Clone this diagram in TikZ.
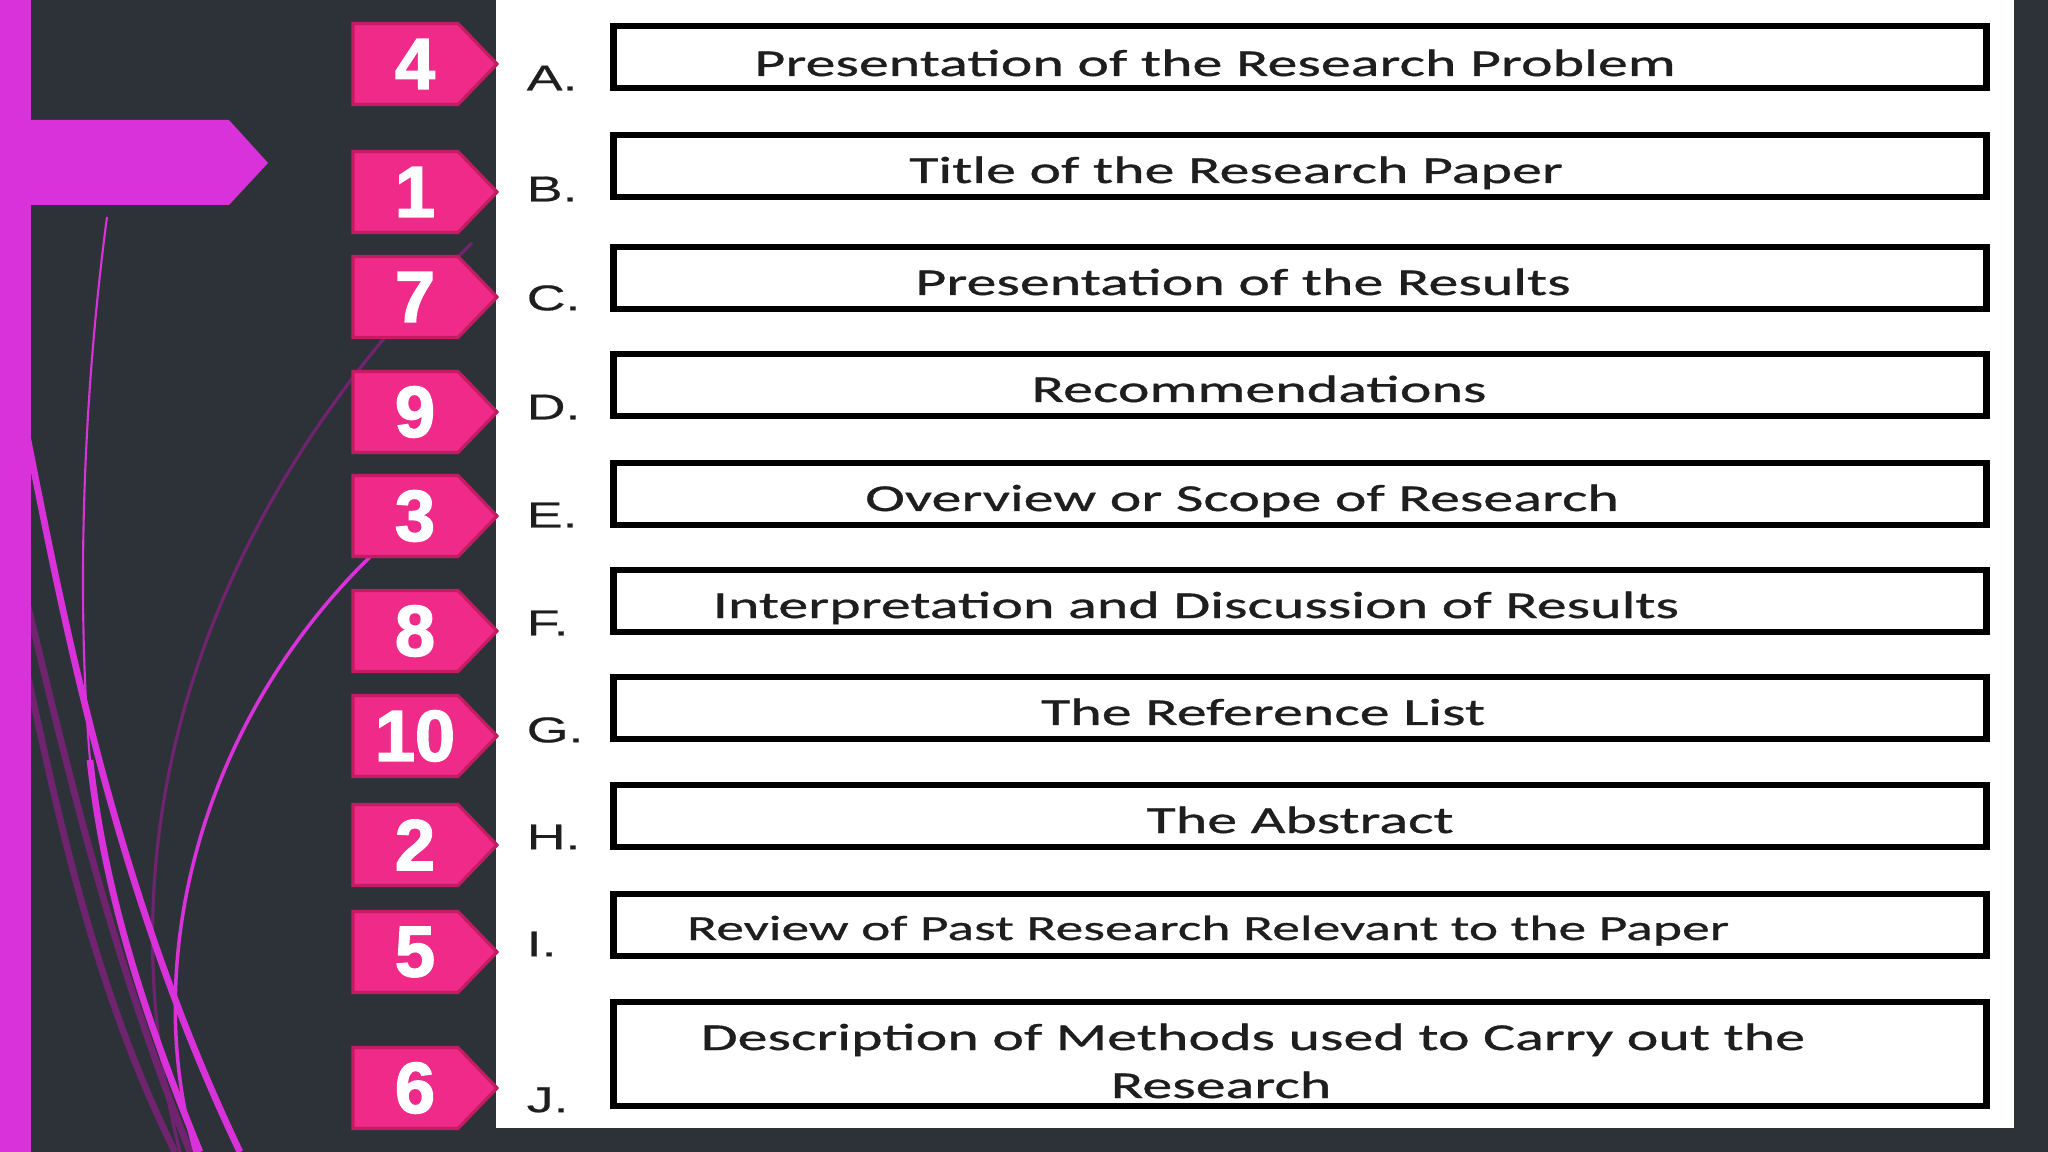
\documentclass[tikz,border=0pt]{standalone}
\usepackage{fontspec}
\setmainfont{Carlito}
\newfontfamily\stretchfont[FakeStretch=1.58, FakeBold=0.8]{Carlito}
\newfontfamily\letterfont[FakeStretch=1.5, FakeBold=0.5]{Liberation Sans}
\newfontfamily\badgefont[FakeBold=2.2]{Liberation Sans Bold}
\usetikzlibrary{positioning}
\definecolor{slate}{RGB}{45,50,57}
\definecolor{wisp}{RGB}{218,50,218}
\definecolor{wispdark}{RGB}{112,36,112}
\definecolor{badgepink}{RGB}{240,42,136}
\definecolor{badgeedge}{RGB}{196,28,98}
\definecolor{inktext}{RGB}{30,30,30}

\begin{document}
\begin{tikzpicture}[x=0.01cm, y=-0.01cm,
wispline/.style={draw=wisp, line width=1.9pt},
wispthin/.style={draw=wisp, line width=0.6pt},
darkline/.style={draw=wispdark, line width=1.9pt},
darkthin/.style={draw=wispdark, line width=0.9pt},
badge/.style={fill=badgepink, draw=badgeedge, line width=0.9pt},
badgenum/.style={text=white, inner sep=0pt, font=\badgefont\fontsize{20.5}{22}\selectfont},
letter/.style={anchor=west, inner sep=0pt, text=inktext, font=\letterfont\fontsize{10.2}{12}\selectfont},
answerbox/.style={draw=black, line width=1.8pt, minimum width=13.72cm, minimum height=0.62cm, inner sep=0pt},
answer/.style={anchor=base, inner sep=0pt, text=inktext, font=\stretchfont\fontsize{10.8}{13}\selectfont},
]
    \useasboundingbox (0,0) rectangle (2048,1152);
    \fill[slate] (0,0) rectangle (2048,1152);

    % wisps on the left
    \draw[darkline] (20,573) .. controls (70,780) and (110,950) .. (190,1152);
    \draw[darkline] (20,640) .. controls (55,800) and (90,980) .. (175,1152);
    \draw[darkthin] (472,243) .. controls (230,480) and (90,800) .. (180,1152);
    \draw[wispthin] (107,217) .. controls (80,420) and (78,620) .. (90,760);
    \draw[wispline] (90,760) .. controls (105,900) and (150,1030) .. (200,1152);
    \draw[wispline] (20,400) .. controls (60,600) and (110,880) .. (240,1152);
    \draw[wisp, line width=1pt] (375,552) .. controls (200,720) and (140,960) .. (195,1152);

    \fill[wisp] (0,0) rectangle (31,1152);
    \fill[wisp] (31,120) -- (229,120) -- (268,163) -- (229,205) -- (31,205) -- cycle;

    \fill[white] (496,0) rectangle (2014,1128);

    % numbered tags
    \foreach \num/\yc in {4/64, 1/192, 7/297, 9/412, 3/516, 8/631, 10/736, 2/845, 5/952, 6/1088} {
        \path[badge] (353,\yc-40.5) -- (458,\yc-40.5) -- (497,\yc) -- (458,\yc+40.5) -- (353,\yc+40.5) -- cycle;
        \node[badgenum] (num\num) at (415,\yc) {\num};
    }

    % lettered boxes
    \foreach \tag/\by/\ly in {A/57/78, B/166/189, C/278/298, D/385/407, E/494/515, F/601/623, G/708/730, H/816/837, I/925/944} {
        \node[answerbox] (box\tag) at (1300,\by) {};
        \node[letter] (letter\tag) at (526,\ly) {\tag.};
    }
    \node[answerbox, minimum height=1.04cm] (boxJ) at (1300,1054) {};
    \node[letter] (letterJ) at (526,1100) {J.};

    \node[answer] (textA) at (1215,76) {Presentation of the Research Problem};
    \node[answer] (textB) at (1236,183) {Title of the Research Paper};
    \node[answer] (textC) at (1243,295) {Presentation of the Results};
    \node[answer] (textD) at (1259,402) {Recommendations};
    \node[answer] (textE) at (1242,511) {Overview or Scope of Research};
    \node[answer] (textF) at (1196,618) {Interpretation and Discussion of Results};
    \node[answer] (textG) at (1263,725) {The Reference List};
    \node[answer] (textH) at (1300,833) {The Abstract};
    \node[answer, font=\stretchfont\fontsize{10}{12}\selectfont] (textI) at (1208,940) {Review of Past Research Relevant to the Paper};
    \node[answer] (textJa) at (1253,1050) {Description of Methods used to Carry out the};
    \node[answer] (textJb) at (1221,1098) {Research};
\end{tikzpicture}
\end{document}
